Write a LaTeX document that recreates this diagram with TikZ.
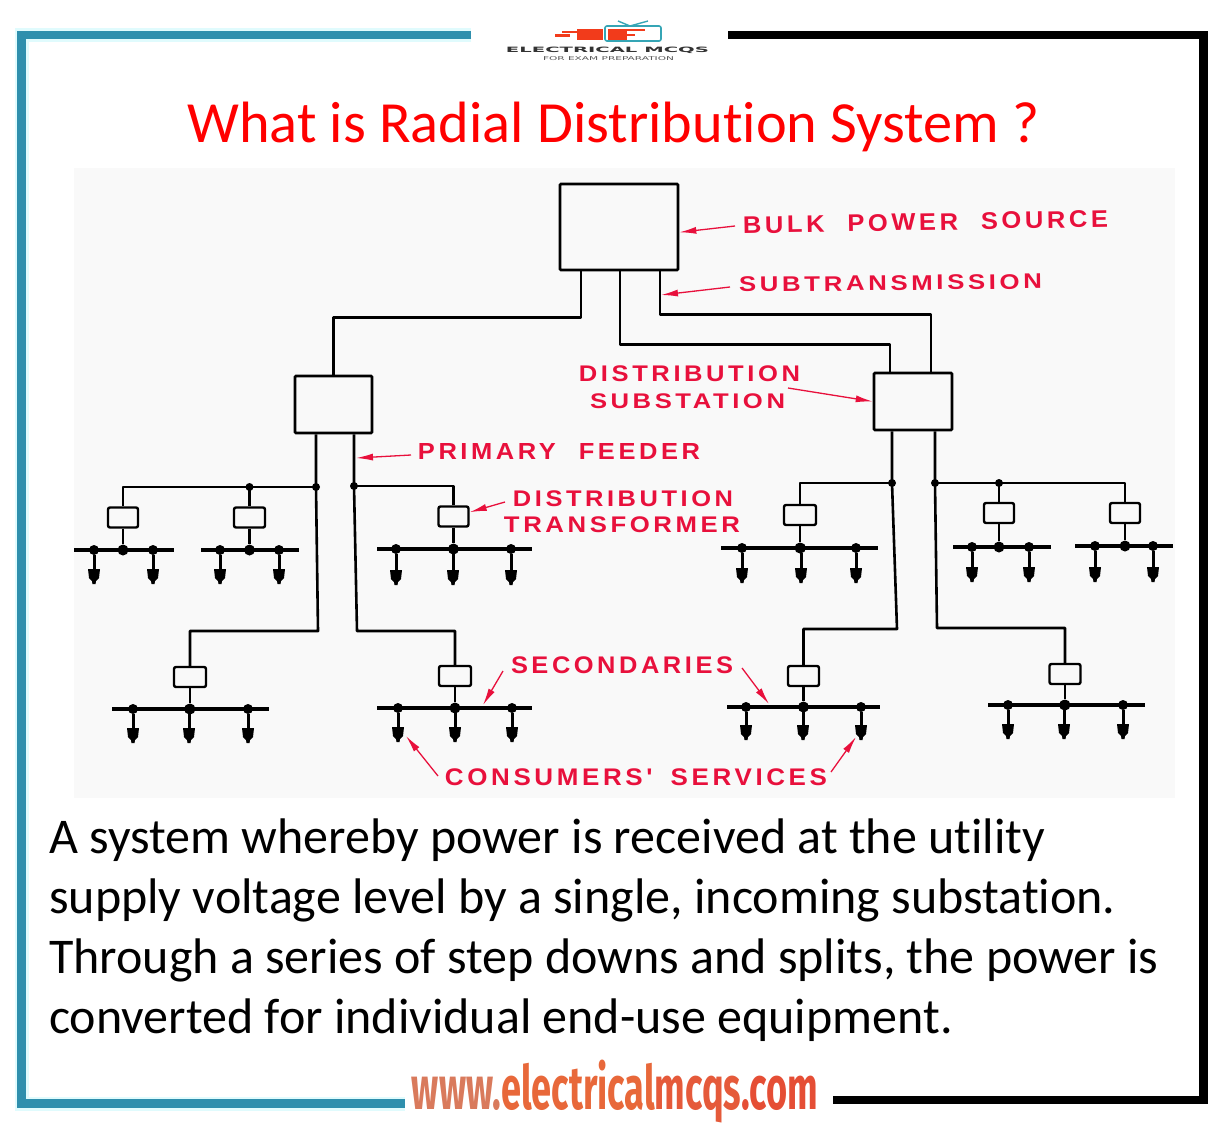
\documentclass[tikz,border=0pt]{standalone}
\usepackage{fontspec}
\usepackage{graphicx}
\usetikzlibrary{arrows.meta,calc}
\setmainfont[Ligatures=NoCommon]{Carlito}
\newfontfamily\labf[LetterSpace=14,Ligatures=NoCommon]{Liberation Sans Bold}
\newfontfamily\webf{Fira Sans}
\newfontfamily\logof{DejaVu Sans}
\definecolor{tealframe}{HTML}{2E8FAD}
\definecolor{glowc}{HTML}{E0FBFD}
\definecolor{labred}{HTML}{E8103C}
\definecolor{panelc}{HTML}{F9F9F9}
\definecolor{tvc}{HTML}{35A5B5}
\definecolor{logored}{HTML}{F23B1B}
\tikzset{
  wire/.style={draw=black,line width=2.6pt,line join=round},
  busline/.style={draw=black,line width=3.4pt},
  bigbox/.style={draw=black,line width=2.6pt,rounded corners=1pt,fill=panelc,inner sep=0pt},
  xfmr/.style={bigbox,line width=2.4pt,rounded corners=2pt},
  jdot/.style={circle,fill=black,inner sep=0pt,minimum size=8pt},
  lab/.style={inner sep=0pt,text=labred},
  callout/.style={draw=labred,line width=1.3pt,-{Latex[length=17pt,width=7pt]}},
  frameT/.style={draw=tealframe,line width=8.5pt,line join=miter},
  frameK/.style={draw=black,line width=8.5pt,line join=miter},
  glow/.style={draw=glowc,line width=14pt,line join=miter}
}
% name, box cx, box cy, box w, bus left, bus right, bus y, tip y, drop list
\newcommand\Grp[9]{%
  \node[xfmr,minimum width=#4pt,minimum height=20pt] (#1box) at (#2,#3) {};
  \node[circle,fill=black,inner sep=0pt,minimum size=11pt] (#1hub) at (#2,#7) {};
  \draw[wire] (#1box.south) -- (#1hub);
  \coordinate (#1L) at (#5,#7);
  \coordinate (#1R) at (#6,#7);
  \draw[busline] (#1L) -- (#1R);
  \foreach \dx in {#9} {
    \node[circle,fill=black,inner sep=0pt,minimum size=10pt] (#1d\dx) at (\dx,#7) {};
    \coordinate (#1t\dx) at (\dx,#8-11);
    \draw[wire,line width=3pt] (#1d\dx) -- (#1t\dx);
    \fill[black] (\dx-6,#8-15) -- (\dx+6,#8-15) -- (\dx+5,#8-6) -- (\dx+2,#8-3) -- (\dx+1.5,#8) -- (\dx-1.5,#8) -- (\dx-2,#8-3) -- (\dx-5,#8-6) -- cycle;
  }
}
\newcommand\Lab[7]{% name,cx,cy,w,h,rot,text
  \node[lab,rotate=#6] (#1) at (#2,#3) {\resizebox*{#4pt}{#5pt}{\labf #7}};
}
\begin{document}
\begin{tikzpicture}[x=1pt,y=-1pt]
\useasboundingbox (0,0) rectangle (1228,1125);
\fill[white] (0,0) rectangle (1228,1125);
% frame
\coordinate (fa) at (471,35); \coordinate (fb) at (21.5,35); \coordinate (fc) at (21.5,1103.5); \coordinate (fd) at (405,1103.5);
\coordinate (ga) at (728,35); \coordinate (gb) at (1203.5,35); \coordinate (gc) at (1203.5,1100); \coordinate (gd) at (833,1100);
\draw[glow] (fa) -- (fb) -- (fc) -- (fd);
\draw[frameT] (fa) -- (fb) -- (fc) -- (fd);
\draw[frameK] (ga) -- (gb) -- (gc) -- (gd);
% logo
\draw[tvc,line width=1.6pt,rounded corners=2pt] (605,26) rectangle (661,41);
\draw[tvc,line width=1.4pt] (618,21) -- (630,26) -- (648,21);
\fill[logored] (577,29) rectangle (603,40);
\fill[logored] (608,29) rectangle (627,40);
\fill[logored] (555,34) rectangle (570,37);
\fill[logored] (562,31) rectangle (580,33);
\fill[logored] (627,29) rectangle (645,31);
\fill[logored] (627,34) rectangle (635,36);
\node[inner sep=0pt,text=black!80] (logotext) at (607.5,50) {\resizebox*{203pt}{6.5pt}{\logof\bfseries ELECTRICAL MCQS}};
\node[inner sep=0pt,text=black!65] (logosub) at (608.5,59) {\resizebox*{131pt}{4pt}{\logof FOR EXAM PREPARATION}};
% title
\node[inner sep=0pt,anchor=base,text=red,font=\fontsize{58.3}{60}\selectfont] (title) at (613.5,142) {What is Radial Distribution System ?};
% panel
\fill[panelc] (74,168) rectangle (1175,798);
% main boxes
\node[bigbox,minimum width=118pt,minimum height=86pt] (bulk) at (619,227) {};
\node[bigbox,minimum width=77pt,minimum height=57pt] (lsub) at (333.5,404.5) {};
\node[bigbox,minimum width=78pt,minimum height=57pt] (rsub) at (913,401.5) {};
\draw[wire] ([xshift=-38pt]bulk.south) -- ++(0,46) -| (lsub.north);
\draw[wire] ([xshift=1pt]bulk.south) -- ++(0,73) -| ([xshift=-23pt]rsub.north);
\draw[wire] ([xshift=41pt]bulk.south) -- ++(0,43) -| ([xshift=18pt]rsub.north);
% groups
\Grp{A}{123}{517.5}{30}{74}{174}{550}{584}{94,153}
\Grp{B}{249.5}{517.5}{31}{201}{299}{550}{584}{220,279}
\Grp{C}{453.5}{516.5}{30}{377}{532}{549}{585}{396,453,511}
\Grp{D}{190}{677}{32}{112}{269}{709}{743}{133,189,248}
\Grp{E}{455}{676}{32}{377}{532}{708}{742}{398,455,512}
\Grp{F}{800}{515}{32}{721}{878}{548}{583}{742,801,856}
\Grp{G}{999}{513}{30}{953}{1051}{547}{582}{972,1029}
\Grp{H}{1125}{513}{30}{1075}{1173}{546}{582}{1095,1153}
\Grp{I}{803.5}{676}{31}{727}{880}{707}{740}{746,803,861}
\Grp{J}{1065}{674}{31}{988}{1145}{705}{739}{1008,1064,1123}
% left feeders
\node[jdot] (jl1) at (316,487) {};
\node[jdot] (jl2) at (354,486) {};
\node[jdot] (jb) at (249.5,487) {};
\coordinate (kl1) at (318,631); \coordinate (kl2) at (357,631);
\draw[wire] (lsub.south -| jl1) -- (jl1.center) -- (kl1) -| (Dbox.north);
\draw[wire] (lsub.south -| jl2) -- (jl2.center) -- (kl2) -| (Ebox.north);
\draw[wire] (jl1.center) -| (Abox.north);
\draw[wire] (jb.center) -- (Bbox.north);
\draw[wire] (jl2.center) -| (Cbox.north);
% right feeders
\node[jdot] (jr1) at (892,483) {};
\node[jdot] (jr2) at (935,483) {};
\node[jdot] (jg) at (999,483) {};
\coordinate (kr1) at (897,629); \coordinate (kr2) at (937,628);
\draw[wire] (rsub.south -| jr1) -- (jr1.center) -- (kr1) -| (Ibox.north);
\draw[wire] (rsub.south -| jr2) -- (jr2.center) -- (kr2) -| (Jbox.north);
\draw[wire] (jr1.center) -| (Fbox.north);
\draw[wire] (jr2.center) -| (Hbox.north);
\draw[wire] (jg.center) -- (Gbox.north);
% labels
\Lab{lbulk}{925.5}{222}{365}{17}{1}{BULK\hspace{0.9em}POWER\hspace{0.9em}SOURCE}
\Lab{lsubt}{890.5}{283}{303}{15}{0.6}{SUBTRANSMISSION}
\Lab{lds1}{689.5}{374}{221}{16}{0}{DISTRIBUTION}
\Lab{lds2}{687.5}{401}{195}{15}{0}{SUBSTATION}
\Lab{lprim}{559}{451}{282}{16}{0}{PRIMARY\hspace{0.9em}FEEDER}
\Lab{ldt1}{623}{499}{220}{16}{0}{DISTRIBUTION}
\Lab{ldt2}{622}{525}{236}{16}{0}{TRANSFORMER}
\Lab{lsec}{622}{665}{222}{17}{0}{SECONDARIES}
\Lab{lcons}{636}{777}{382}{17}{0}{CONSUMERS'\hspace{0.7em}SERVICES}
% callouts
\coordinate (cb) at (735,226);
\coordinate (cs) at (730,287); \coordinate (ts) at (661,295);
\coordinate (cd) at (788,388);
\coordinate (cp) at (411,455); \coordinate (tp) at (356,458);
\coordinate (ct) at (505,502);
\coordinate (ce) at (503,671); \coordinate (te) at (483,705);
\coordinate (cr) at (742,668); \coordinate (tr) at (769,704);
\coordinate (cl) at (438,776); \coordinate (tl) at (406,736);
\coordinate (cq) at (831,772); \coordinate (tq) at (856,737);
\draw[callout] (cb) -- (bulk.-5);
\draw[callout] (cs) -- (ts);
\draw[callout] (cd) -- (rsub.west);
\draw[callout] (cp) -- (tp);
\draw[callout] (ct) -- (Cbox.15);
\draw[callout] (ce) -- (te);
\draw[callout] (cr) -- (tr);
\draw[callout] (cl) -- (tl);
\draw[callout] (cq) -- (tq);
% body
\node[inner sep=0pt,anchor=base west,align=left,font=\fontsize{50}{60}\selectfont] (body) at (49,1033) {A system whereby power is received at the utility\\supply voltage level by a single, incoming substation.\\Through a series of step downs and splits, the power is\\converted for individual end-use equipment.};
% web
\node[inner sep=0pt] (web) at (615,1091.5) {\resizebox*{406pt}{63pt}{\webf\bfseries\color[HTML]{D97A5C}www.\color[HTML]{E8683A}electrical\color[HTML]{E55A3A}mcqs\color[HTML]{E54E35}.com}};
\end{tikzpicture}
\end{document}
